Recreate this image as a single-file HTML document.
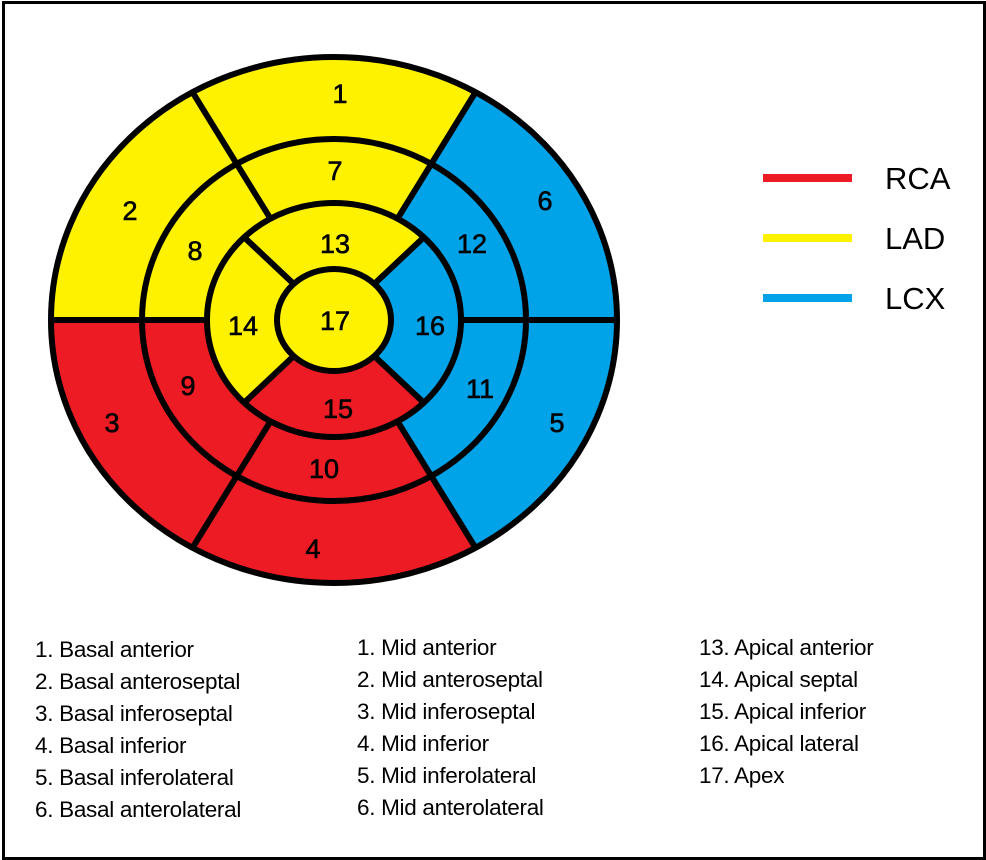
<!DOCTYPE html>
<html><head><meta charset="utf-8"><style>
html,body{margin:0;padding:0;background:#fff;}
body{width:986px;height:860px;position:relative;overflow:hidden;font-family:"Liberation Sans",sans-serif;}
.frame{position:absolute;left:2px;top:1px;width:978px;height:853px;border:3px solid #000;}
.t{position:absolute;font-size:22.5px;color:#000;line-height:32px;white-space:nowrap;letter-spacing:-0.3px;}
</style></head><body>
<div class="frame"></div>
<svg width="986" height="860" style="position:absolute;left:0;top:0" id="s"></svg>
<div class="t" style="left:35px;top:634px">1. Basal anterior<br>2. Basal anteroseptal<br>3. Basal inferoseptal<br>4. Basal inferior<br>5. Basal inferolateral<br>6. Basal anterolateral</div>
<div class="t" style="left:357px;top:632px">1. Mid anterior<br>2. Mid anteroseptal<br>3. Mid inferoseptal<br>4. Mid inferior<br>5. Mid inferolateral<br>6. Mid anterolateral</div>
<div class="t" style="left:699px;top:632px">13. Apical anterior<br>14. Apical septal<br>15. Apical inferior<br>16. Apical lateral<br>17. Apex</div>
<script>
var s=document.getElementById('s'),cx=334,cy=320;
var Y='#fff200',R='#ed1c24',B='#00a2e8';
var rings=[[283,263],[192,181],[127,117],[57,51]];
function P(r,t){t=t*Math.PI/180;return [cx+r[0]*Math.cos(t),cy-r[1]*Math.sin(t)];}
function wedge(r,a,b,c){var p=P(r,a),q=P(r,b);return '<path d="M'+cx+','+cy+'L'+p+'A'+r[0]+','+r[1]+' 0 0 0 '+q+'Z" fill="'+c+'"/>';}
var h='';
var cols=[B,Y,Y,R,R,B];
for(var k=0;k<2;k++)for(var i=0;i<6;i++)h+=wedge(rings[k],i*60,i*60+60,cols[i]);
var c4=[Y,Y,R,B];
for(var i=0;i<4;i++)h+=wedge(rings[2],45+i*90,135+i*90,c4[i]);
h+='<ellipse cx="'+cx+'" cy="'+cy+'" rx="57" ry="51" fill="'+Y+'"/>';
for(var i=0;i<6;i++){var a=P(rings[2],i*60),b=P(rings[0],i*60);h+='<line x1="'+a[0]+'" y1="'+a[1]+'" x2="'+b[0]+'" y2="'+b[1]+'" stroke="#000" stroke-width="6"/>';}
for(var i=0;i<4;i++){var a=P(rings[3],45+i*90),b=P(rings[2],45+i*90);h+='<line x1="'+a[0]+'" y1="'+a[1]+'" x2="'+b[0]+'" y2="'+b[1]+'" stroke="#000" stroke-width="6"/>';}
for(var k=0;k<4;k++)h+='<ellipse cx="'+cx+'" cy="'+cy+'" rx="'+rings[k][0]+'" ry="'+rings[k][1]+'" fill="none" stroke="#000" stroke-width="6"/>';
var L=[[1,340,93],[7,335,170],[13,335,243],[2,130,210],[8,195,250],[14,243,325],[17,335,320],[16,430,325],[12,472,243],[6,545,200],[9,188,385],[3,112,422],[15,338,408],[10,324,468],[11,480,388],[5,557,422],[4,313,548]];
L.forEach(function(l){h+='<text x="'+l[1]+'" y="'+(l[2]+10)+'" font-size="27" text-anchor="middle" stroke="#000" stroke-width="0.6" font-family="Liberation Sans, sans-serif">'+l[0]+'</text>';});
[[R,178,'RCA'],[Y,238,'LAD'],[B,298,'LCX']].forEach(function(g){h+='<rect x="763" y="'+(g[1]-4)+'" width="89" height="8" fill="'+g[0]+'"/><text x="885" y="'+(g[1]+11)+'" font-size="31" font-family="Liberation Sans, sans-serif">'+g[2]+'</text>';});
s.innerHTML=h;
</script>
</body></html>
